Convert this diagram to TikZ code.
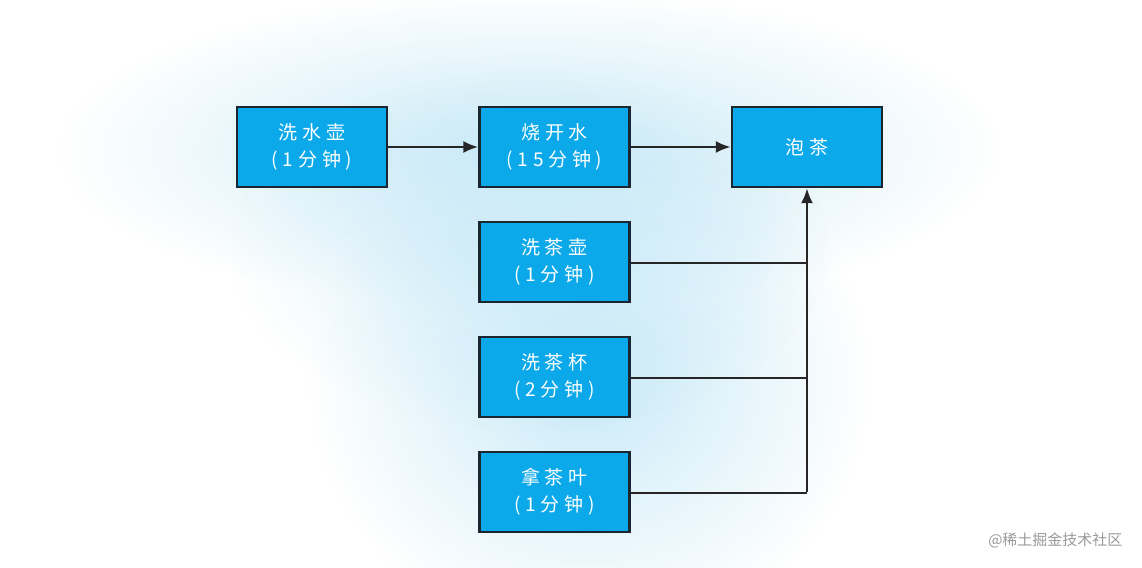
\documentclass[tikz,border=0pt]{standalone}
\usepackage{fontspec}
\setmainfont{Noto Sans CJK SC}
\newfontfamily\boxfont[LetterSpace=25]{Noto Sans CJK SC}
\usetikzlibrary{arrows.meta,fadings,positioning}
\definecolor{boxblue}{HTML}{0BA8EA}
\definecolor{boxline}{HTML}{1A2630}
\definecolor{glow}{HTML}{C9EAF8}
\definecolor{wm}{HTML}{9A9A9A}
\tikzfading[name=fuzzy, inner color=transparent!0, outer color=transparent!100]
\begin{document}
\begin{tikzpicture}[x=1pt,y=-1pt,
  stepbox/.style={draw=boxline, line width=2.2pt, fill=boxblue, minimum width=150pt, minimum height=80pt,
    text=white, font=\boxfont\fontsize{19}{27}\selectfont, align=center, inner sep=0pt},
  conn/.style={draw=black!85, line width=2.8pt},
  arr/.style={conn, -{Latex[length=15pt,width=12pt]}}]
\useasboundingbox (0,0) rectangle (1142,567);
\fill[white] (0,0) rectangle (1142,567);
% background glow
\fill[glow, path fading=fuzzy] (530,150) ellipse [x radius=470pt, y radius=160pt];
\fill[glow, path fading=fuzzy] (590,380) ellipse [x radius=280pt, y radius=260pt];
\fill[glow, path fading=fuzzy, opacity=0.7] (530,250) ellipse [x radius=300pt, y radius=180pt];
% nodes
\node[stepbox] (a) at (312,147) {洗水壶\\(1分钟)};
\node[stepbox] (b) at (554.5,147) {烧开水\\(15分钟)};
\node[stepbox] (c) at (807,147) {泡茶};
\node[stepbox] (d) at (554.5,262) {洗茶壶\\(1分钟)};
\node[stepbox] (e) at (554.5,377) {洗茶杯\\(2分钟)};
\node[stepbox] (f) at (554.5,492) {拿茶叶\\(1分钟)};
\coordinate (j1) at (807,263);
\coordinate (j2) at (807,378);
\coordinate (j3) at (807,493);
% connectors
\draw[arr] (a) -- (b);
\draw[arr] (b) -- (c);
\draw[conn] (d.east |- j1) -- (j1);
\draw[conn] (e.east |- j2) -- (j2);
\draw[conn] (f.east |- j3) -- (j3);
\draw[arr] ([yshift=1.4pt]j3) -- (c.south);
% watermark
\node[text=wm, font=\fontsize{15}{18}\selectfont, anchor=east] (w) at (1126,540) {@稀土掘金技术社区};
\end{tikzpicture}
\end{document}
